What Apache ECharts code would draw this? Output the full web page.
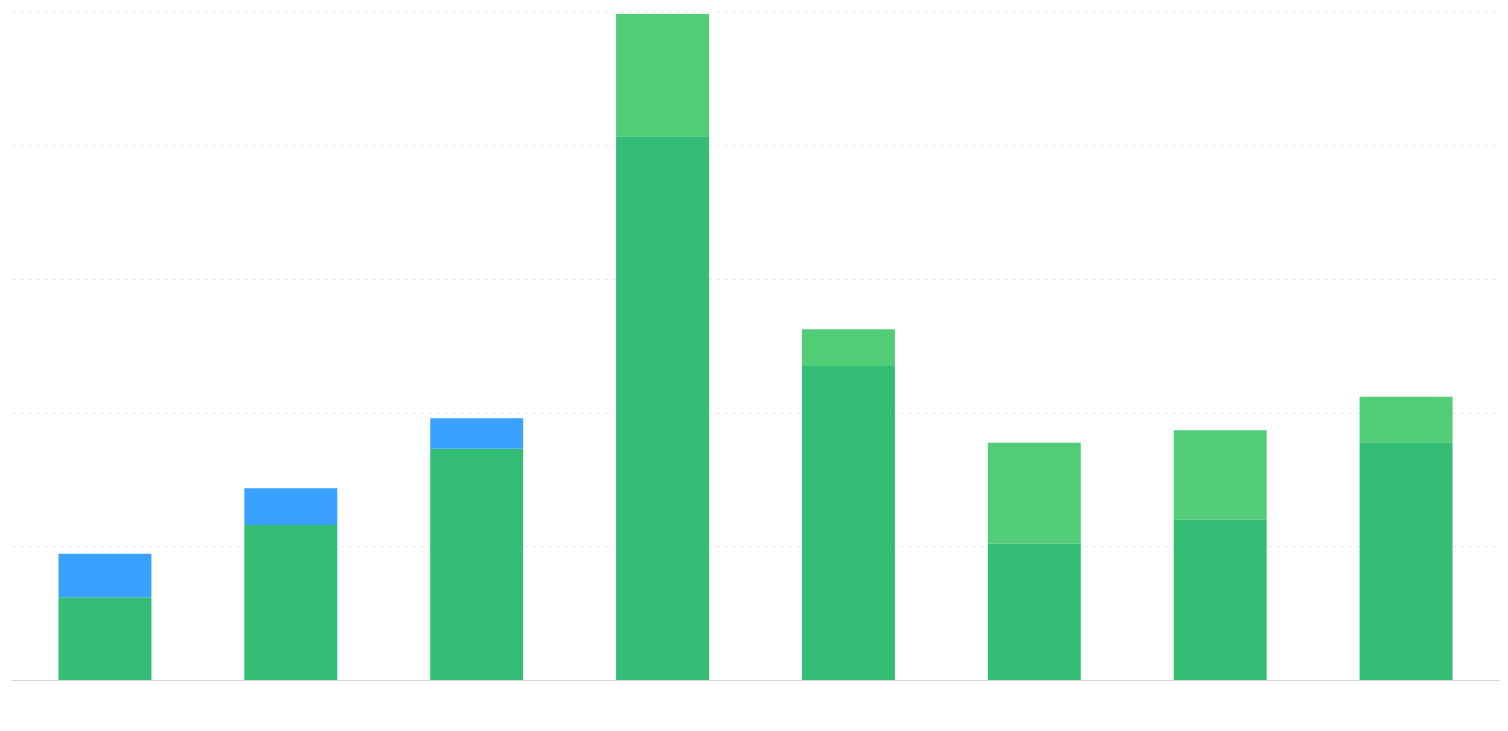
<!DOCTYPE html>
<html>
<head>
<meta charset="utf-8">
<script src="https://cdn.jsdelivr.net/npm/echarts@6/dist/echarts.min.js"></script>
<style>
html,body{margin:0;padding:0;background:#fff;}
#chart{width:1508px;height:731px;}
</style>
</head>
<body>
<div id="chart"></div>
<script>
var categories = ['1', '2', '3', '4', '5', '6', '7', '8'];
var baseValues = [12.4, 23.2, 34.6, 81.4, 47.0, 20.4, 24.0, 35.6];
var blueValues = [6.5, 5.5, 4.6, null, null, null, null, null];
var greenValues = [null, null, null, 18.3, 5.5, 15.1, 13.4, 6.8];

var chart = echarts.init(document.getElementById('chart'));
chart.setOption({
  animation: false,
  grid: { left: 12, right: 9, top: 12, bottom: 51, containLabel: false },
  xAxis: {
    type: 'category',
    data: categories,
    axisLine: { lineStyle: { color: '#d4d4d4' } },
    axisTick: { alignWithLabel: true, length: 4, lineStyle: { color: '#d4d4d4' } },
    axisLabel: { show: false }
  },
  yAxis: {
    type: 'value',
    min: 0, max: 100, interval: 20,
    axisLabel: { show: false },
    axisLine: { show: false },
    axisTick: { show: false },
    splitLine: { lineStyle: { color: '#ebebeb', type: [4, 4] } }
  },
  series: [
    { type: 'bar', stack: 's', barWidth: '50%', data: baseValues,
      itemStyle: { color: '#33bd75' } },
    { type: 'bar', stack: 's', barWidth: '50%', data: blueValues,
      itemStyle: { color: '#3ba1ff' } },
    { type: 'bar', stack: 's', barWidth: '50%', data: greenValues,
      itemStyle: { color: '#51cc77' } }
  ]
});
</script>
</body>
</html>
